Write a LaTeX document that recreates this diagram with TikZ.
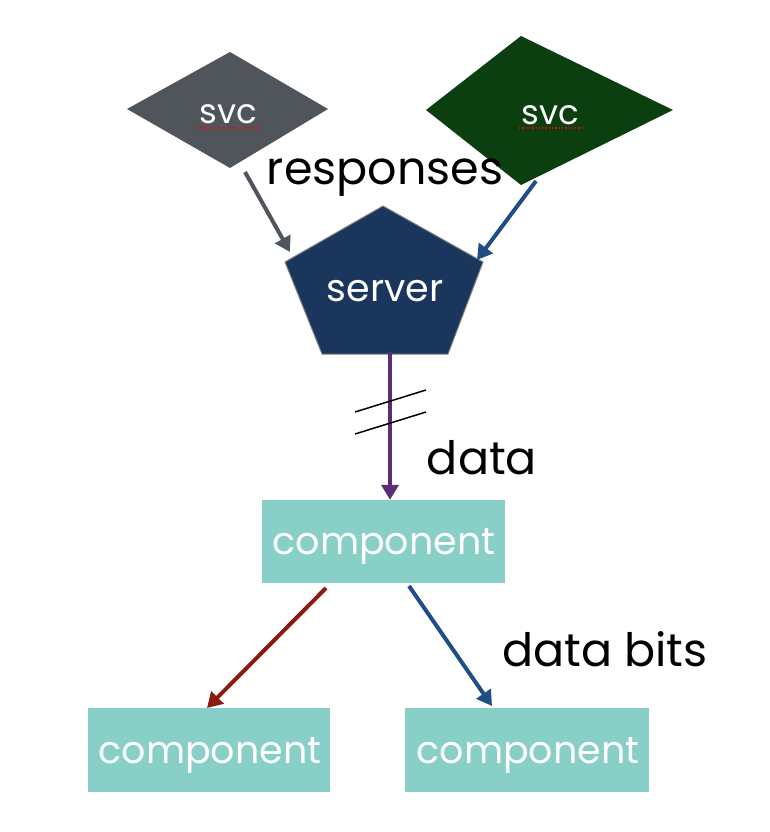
\documentclass[tikz,border=0pt]{standalone}
\usepackage{fontspec}
\setmainfont{Poppins}
\usetikzlibrary{arrows.meta,shapes.geometric}
\definecolor{cgray}{HTML}{50555C}
\definecolor{cgreen}{HTML}{0C3F10}
\definecolor{cnavy}{HTML}{1B365D}
\definecolor{cteal}{HTML}{88CFC8}
\definecolor{cred}{HTML}{8B1A10}
\definecolor{cblue}{HTML}{1F4E87}
\definecolor{cpurple}{HTML}{5B2C79}
\begin{document}
\begin{tikzpicture}[x=1pt,y=-1pt,
  arr/.style={line width=4pt,-{Triangle[length=15pt,width=17pt]}},
  wt/.style={text=white,font=\fontsize{34}{34}\selectfont},
  ct/.style={text=white,font=\fontsize{38}{38}\selectfont},
  lbl/.style={text=black,font=\fontsize{46}{46}\selectfont},
  box/.style={fill=cteal,draw=none}]
\useasboundingbox (0,0) rectangle (770,832);
\fill[cgray] (127,109) -- (230,52) -- (328,109) -- (230,168) -- cycle;
\fill[cgreen] (426,110) -- (521,36) -- (673,110) -- (521,185) -- cycle;
\node[wt] (s1) at (228,114) {svc};
\node[wt] (s2) at (550,115) {svc};
\draw[red,dotted,line width=1.3pt] (197,128)--(259,128) (519,128)--(582,128);
\filldraw[cnavy,draw=gray,line width=1pt] (383,206) -- (483,262) -- (448,354) -- (322,354) -- (285,262) -- cycle;
\node[ct] (srv) at (385,291) {server};
\node[lbl] (resp) at (385,178) {responses};
\coordinate (g1) at (245,172); \coordinate (g2) at (290,252);
\coordinate (b1) at (536,181); \coordinate (b2) at (477,260);
\draw[arr,cgray] (g1) -- (g2);
\draw[arr,cblue] (b1) -- (b2);
\node[box,minimum width=243pt,minimum height=83pt] (c0) at (383.5,541.5) {};
\node[ct] at (384,546) {component};
\node[box,minimum width=242pt,minimum height=84pt] (c1) at (209,750) {};
\node[ct] at (210,755) {component};
\node[box,minimum width=244pt,minimum height=84pt] (c2) at (527,750) {};
\node[ct] at (528,755) {component};
\coordinate (p1) at (390,352);
\draw[arr,cpurple] (p1) -- (c0.north -| p1);
\draw[black,line width=1.5pt] (355,412) -- (426,390) (355,434) -- (426,412);
\node[lbl] (dl) at (482,458) {data};
\coordinate (r1) at (326,588); \coordinate (r2) at (207,708);
\coordinate (u1) at (409,586); \coordinate (u2) at (492,706);
\draw[arr,cred] (r1) -- (r2);
\draw[arr,cblue] (u1) -- (u2);
\node[lbl] (db) at (605,649) {data bits};
\end{tikzpicture}
\end{document}
